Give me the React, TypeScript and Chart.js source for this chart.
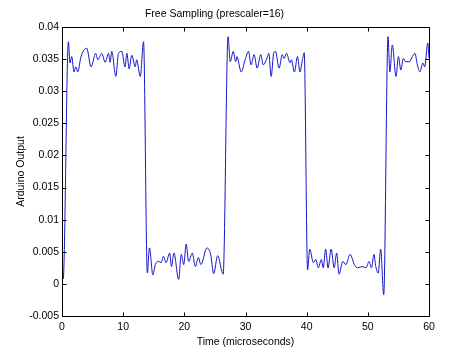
import React, { useEffect, useRef } from "react";
import { Chart, registerables } from "chart.js";

Chart.register(...registerables);

const TITLE = "Free Sampling (prescaler=16)";
const X_LABEL = "Time (microseconds)";
const Y_LABEL = "Arduino Output";

const xTickValues = [0, 10, 20, 30, 40, 50, 60];
const yTickValues = [-0.005, 0, 0.005, 0.01, 0.015, 0.02, 0.025, 0.03, 0.035, 0.04];

// time (microseconds) and Arduino output
const timeUs = [
  0, 0.2, 1.04, 1.31, 1.58, 1.97, 2.24, 2.57, 3.11, 4.04, 4.75, 5.52, 5.85, 6.5, 7.05, 7.6, 7.87, 8.14, 8.8, 9.23, 9.78, 10.3, 10.6, 10.98, 11.4, 11.97, 12.2, 12.8, 13.33,
  13.95, 14.3, 14.86, 15.25, 15.8, 16.2, 16.6, 17.0, 17.6, 17.9, 18.3, 19.07, 19.5, 19.9, 20.3, 20.7, 21.3, 21.8, 22.3, 22.7, 23.7, 24.3, 24.8, 25.45, 26.35,
  27.15, 27.5, 28.0, 28.4, 28.6, 29.3, 30.0, 30.5, 30.9, 31.4, 31.9, 32.5, 32.9, 33.6, 33.8, 34.2, 34.6, 34.9, 35.5, 36.0, 36.3, 36.7, 37.3, 37.5, 38.0, 38.5, 38.9, 39.3, 39.6,
  40.15, 40.5, 41.1, 41.5, 41.9, 42.4, 42.7, 43.1, 43.5, 44.0, 44.5, 44.9, 45.3, 45.9, 46.4, 47.1, 47.8, 48.3, 49.1, 49.7, 50.2, 50.6, 51.0, 51.3, 51.7, 52.1, 52.6,
  53.3, 53.6, 54.0, 54.6, 55.0, 55.4, 55.8, 56.2, 56.8, 57.3, 57.7, 58.1, 58.5, 59.0, 59.3, 59.8, 60.0,
];

const output = [
  0.0035, 0.0008, 0.0377, 0.0344, 0.0354, 0.033, 0.0338, 0.033, 0.0354, 0.0367, 0.0338, 0.0359, 0.0349, 0.0359, 0.0345, 0.0359, 0.0345, 0.0362, 0.0323, 0.0359, 0.0362, 0.0338, 0.0359, 0.0335, 0.0356, 0.0338, 0.0349, 0.0323, 0.0377,
  0.0017, 0.0056, 0.0014, 0.003, 0.0035, 0.0033, 0.0043, 0.0033, 0.0048, 0.0027, 0.0048, 0.0007, 0.0046, 0.003, 0.0062, 0.0035, 0.0048, 0.0027, 0.0041, 0.003, 0.0056, 0.0046, 0.0016, 0.0044, 0.0015,
  0.0385, 0.0346, 0.0362, 0.0346, 0.0354, 0.033, 0.0351, 0.0362, 0.0341, 0.0357, 0.0336, 0.0357, 0.0341, 0.0354, 0.0359, 0.0323, 0.0359, 0.0362, 0.0336, 0.0357, 0.0351, 0.0359, 0.0344, 0.0349, 0.033, 0.0354, 0.033, 0.0349, 0.036,
  0.0022, 0.0054, 0.0033, 0.0038, 0.0025, 0.0038, 0.0025, 0.0054, 0.0025, 0.0054, 0.0025, 0.0048, 0.0015, 0.0035, 0.003, 0.0046, 0.003, 0.0025, 0.0027, 0.0025, 0.0035, 0.0025, 0.0046, 0.0027, 0.0017, 0.0054, -0.0017,
  0.0385, 0.033, 0.0372, 0.0323, 0.0354, 0.0333, 0.0351, 0.0346, 0.0346, 0.0354, 0.0359, 0.0341, 0.033, 0.0344, 0.0338, 0.0375, 0.0352,
];

const FONT = "'Liberation Sans', Arial, Helvetica, sans-serif";

const boxPlugin = {
  id: "matlabBox",
  afterDraw(chart: any) {
    const { ctx, chartArea } = chart;
    const { left, right, top, bottom } = chartArea;
    const xs = chart.scales.x;
    const ys = chart.scales.y;
    const L = Math.round(left) + 0.5;
    const R = Math.round(right) + 0.5;
    const T = Math.round(top) + 0.5;
    const B = Math.round(bottom) + 0.5;
    const tl = 4;
    ctx.save();
    ctx.strokeStyle = "#000";
    ctx.lineWidth = 1;
    ctx.beginPath();
    ctx.rect(L, T, R - L, B - T);
    for (const v of xTickValues) {
      const px = Math.round(xs.getPixelForValue(v)) + 0.5;
      ctx.moveTo(px, B);
      ctx.lineTo(px, B - tl);
      ctx.moveTo(px, T);
      ctx.lineTo(px, T + tl);
    }
    for (const v of yTickValues) {
      const py = Math.round(ys.getPixelForValue(v)) + 0.5;
      ctx.moveTo(L, py);
      ctx.lineTo(L + tl, py);
      ctx.moveTo(R, py);
      ctx.lineTo(R - tl, py);
    }
    ctx.stroke();
    ctx.restore();
  },
};

export default function App() {
  const ref = useRef<HTMLCanvasElement | null>(null);

  useEffect(() => {
    document.body.style.margin = "0";
    const canvas = ref.current;
    if (!canvas) return;
    const points = timeUs.map((t, i) => ({ x: t, y: output[i] }));
    const chart = new Chart(canvas, {
      type: "line",
      data: {
        datasets: [
          {
            data: points,
            borderColor: "#1515c8",
            borderWidth: 1,
            pointRadius: 0,
            fill: false,
            cubicInterpolationMode: "monotone",
          },
        ],
      },
      options: {
        responsive: false,
        animation: false,
        layout: { padding: { left: 0, right: 45, top: 0, bottom: 0 } },
        plugins: {
          legend: { display: false },
          tooltip: { enabled: false },
          title: {
            display: true,
            text: TITLE,
            color: "#000",
            font: { family: FONT, size: 10.5, weight: "normal" },
            padding: { top: 8, bottom: 6.4 },
          },
        },
        scales: {
          x: {
            type: "linear",
            min: 0,
            max: 60,
            grid: { display: false, drawTicks: false },
            border: { display: false },
            afterBuildTicks: (s: any) => {
              s.ticks = xTickValues.map((v) => ({ value: v }));
            },
            afterFit: (s: any) => {
              s.height = 39;
            },
            ticks: {
              color: "#000",
              padding: 5,
              maxRotation: 0,
              autoSkip: false,
              font: { family: FONT, size: 10.5 },
              callback: (v: any) => String(v),
            },
            title: {
              display: true,
              text: X_LABEL,
              color: "#000",
              font: { family: FONT, size: 10.5 },
              padding: { top: 0, bottom: 6.7 },
            },
          },
          y: {
            type: "linear",
            min: -0.005,
            max: 0.04,
            grid: { display: false, drawTicks: false },
            border: { display: false },
            afterBuildTicks: (s: any) => {
              s.ticks = yTickValues.map((v) => ({ value: v }));
            },
            afterFit: (s: any) => {
              s.width = 62;
            },
            ticks: {
              color: "#000",
              padding: 3,
              autoSkip: false,
              font: { family: FONT, size: 10.5 },
              callback: (v: any) => String(Number(Number(v).toFixed(3))),
            },
            title: {
              display: true,
              text: Y_LABEL,
              color: "#000",
              font: { family: FONT, size: 10.5 },
              padding: { top: 14.5, bottom: 0 },
            },
          },
        },
      },
      plugins: [boxPlugin],
    });
    return () => chart.destroy();
  }, []);

  return (
    <div style={{ width: 474, height: 355, background: "#fff" }}>
      <canvas ref={ref} width={474} height={355} style={{ display: "block" }} />
    </div>
  );
}
